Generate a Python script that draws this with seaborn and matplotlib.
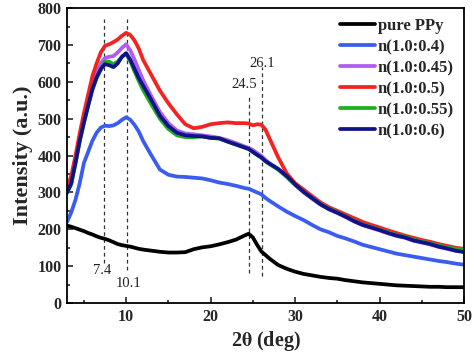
import matplotlib
matplotlib.use("Agg")
import matplotlib.pyplot as plt
import seaborn as sns
import pandas as pd
from matplotlib.ticker import MultipleLocator

# ---------------- data ----------------
two_theta = [3, 3.5, 4, 4.5, 5, 5.5, 6, 6.5, 7, 7.5, 8, 8.5, 9, 9.5, 10, 10.5, 11, 11.5,
             12, 13, 14, 15, 16, 17, 18, 19, 20, 21, 22, 23, 24, 24.5, 25, 25.5, 26, 26.5,
             27, 28, 29, 30, 31, 32, 33, 34, 35, 36, 37, 38, 39, 40, 41, 42, 43, 44, 45,
             46, 47, 48, 49, 50]

pure_ppy = [210, 207, 203, 199, 195, 190, 186, 181, 177, 174, 170, 165, 160, 157, 155, 153, 150, 147,
            145, 142, 139, 137, 137, 138, 146, 151, 154, 159, 165, 172, 183, 188, 178, 158, 140, 130,
            120, 103, 93, 85, 79, 75, 71, 68, 66, 62, 59, 56, 54, 52, 50, 48, 47, 46, 45,
            44, 44, 43, 43, 43]

n_040 = [220, 246, 280, 325, 380, 410, 440, 462, 476, 481, 480, 482, 488, 497, 504, 497, 483, 465,
         440, 400, 362, 348, 343, 342, 340, 338, 333, 327, 323, 318, 312, 310, 305, 300, 295, 285,
         277, 262, 248, 236, 225, 212, 200, 192, 182, 175, 167, 158, 152, 146, 140, 134, 130, 126, 122,
         118, 114, 111, 107, 104]

n_045 = [305, 332, 388, 448, 498, 545, 590, 625, 650, 665, 668, 670, 680, 692, 702, 685, 660, 632,
         605, 560, 518, 488, 468, 460, 458, 455, 452, 448, 442, 434, 425, 421, 415, 407, 399, 388,
         378, 362, 342, 320, 300, 283, 267, 254, 244, 233, 221, 211, 204, 197, 189, 182, 177, 169, 164,
         159, 152, 147, 142, 140]

n_050 = [312, 345, 400, 460, 515, 565, 615, 650, 680, 698, 702, 708, 715, 725, 733, 727, 712, 690,
         660, 618, 576, 542, 512, 485, 474, 478, 485, 488, 490, 488, 488, 487, 482, 485, 484, 470,
         445, 395, 352, 325, 308, 290, 273, 260, 250, 240, 230, 220, 212, 205, 197, 190, 183, 177, 171,
         166, 160, 155, 150, 147]

n_055 = [298, 322, 378, 438, 488, 535, 578, 610, 633, 655, 655, 648, 655, 668, 676, 655, 628, 602,
         578, 538, 500, 472, 455, 450, 450, 452, 448, 446, 438, 430, 422, 418, 410, 402, 394, 384,
         376, 362, 343, 321, 302, 285, 269, 256, 246, 235, 223, 213, 206, 199, 192, 185, 180, 172, 167,
         162, 156, 151, 147, 145]

n_060 = [300, 325, 380, 440, 490, 535, 580, 612, 635, 648, 645, 640, 650, 668, 678, 660, 635, 610,
         590, 550, 508, 480, 462, 455, 453, 452, 448, 447, 438, 430, 422, 418, 410, 402, 395, 385,
         378, 364, 345, 322, 302, 285, 268, 255, 245, 234, 222, 212, 205, 198, 190, 183, 178, 170, 165,
         160, 153, 148, 142, 138]

series_names = ["pure PPy", "n(1.0:0.4)", "n(1.0:0.45)", "n(1.0:0.5)", "n(1.0:0.55)", "n(1.0:0.6)"]
series_values = [pure_ppy, n_040, n_045, n_050, n_055, n_060]
colors = ["#000000", "#3a5cf0", "#b05cf0", "#f52222", "#1fae1f", "#10128c"]

peak_positions = [7.4, 10.1, 24.5, 26.1]
peak_labels = ["7.4", "10.1", "24.5", "26.1"]

# ---------------- figure ----------------
sns.set_theme(style="ticks")
plt.rcParams["font.family"] = ["Liberation Serif", "DejaVu Serif"]
plt.rcParams["mathtext.fontset"] = "stix"

fig = plt.figure(figsize=(4.74, 3.54), dpi=100)
ax = fig.add_axes([0.1414, 0.144, 0.8376, 0.833])

frames = []
for name, vals in zip(series_names, series_values):
    frames.append(pd.DataFrame({"x": two_theta, "y": vals, "series": name}))
df = pd.concat(frames, ignore_index=True)

sns.lineplot(data=df, x="x", y="y", hue="series", hue_order=series_names,
             palette=dict(zip(series_names, colors)), linewidth=2.7, ax=ax,
             legend=True, sort=False)

# dashed reference lines
dash_ranges = [(108, 770), (90, 770), (81, 558), (73, 640)]
for xp, (y0, y1) in zip(peak_positions, dash_ranges):
    ax.plot([xp, xp], [y0, y1], color="#333333", linestyle=(0, (3, 2.5)), linewidth=0.9, zorder=1)

label_pos = [(7.1, 88), (10.3, 53), (24.0, 594), (26.1, 650)]
for (lx, ly), txt in zip(label_pos, peak_labels):
    ax.text(lx, ly, txt, ha="center", va="center", fontsize=10.5, color="#222222")

ax.set_xlim(3, 50)
ax.set_ylim(0, 800)
ax.xaxis.set_major_locator(MultipleLocator(10))
ax.xaxis.set_minor_locator(MultipleLocator(5))
ax.yaxis.set_major_locator(MultipleLocator(100))
ax.yaxis.set_minor_locator(MultipleLocator(50))
ax.tick_params(which="both", direction="in", top=False, right=False, width=1.2)
ax.tick_params(which="major", length=4.5, pad=4)
ax.tick_params(which="minor", length=2.5)
for lbl in ax.get_xticklabels() + ax.get_yticklabels():
    lbl.set_fontweight("bold")
    lbl.set_fontsize(11.5)

for sp in ax.spines.values():
    sp.set_linewidth(1.3)
    sp.set_color("black")

ax.set_xlabel(r"2$\mathbf{\theta}$ (deg)", fontsize=14.5, fontweight="bold", labelpad=3)
ax.set_ylabel("Intensity (a.u.)", fontsize=16, fontweight="bold", labelpad=3)

leg = ax.legend(loc="upper right", frameon=False, handlelength=2.1,
                handletextpad=0.2, labelspacing=0.3, borderaxespad=0.2,
                bbox_to_anchor=(1.0, 1.0),
                prop={"weight": "bold", "size": 12})
for line in leg.get_lines():
    line.set_linewidth(2.7)

fig.savefig("out.png", dpi=100)
